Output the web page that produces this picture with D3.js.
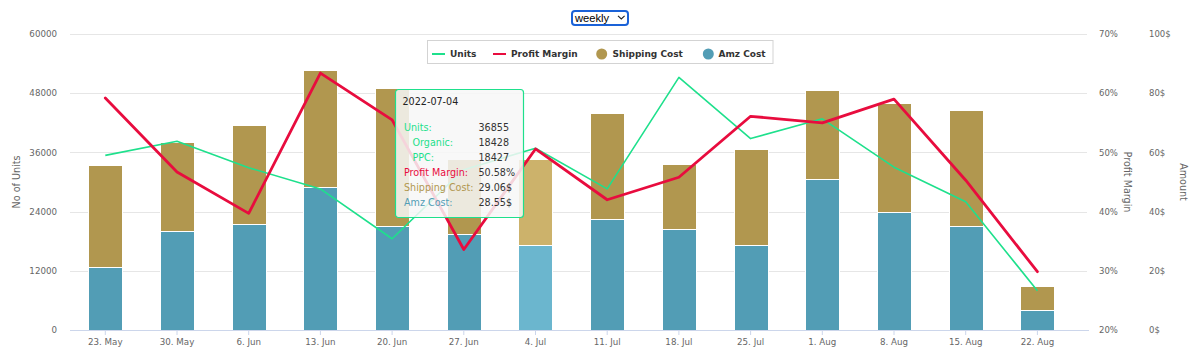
<!DOCTYPE html>
<html>
<head>
<meta charset="utf-8">
<script src="https://cdn.jsdelivr.net/npm/d3@7/dist/d3.min.js"></script>
<style>
  html, body { margin: 0; padding: 0; background: #fff; }
  svg { display: block; font-family: "DejaVu Sans", Verdana, sans-serif; }
</style>
</head>
<body>
<svg id="chart" width="1200" height="364"></svg>
<script>
// ---------------- data ----------------
const categories = ["23. May","30. May","6. Jun","13. Jun","20. Jun","27. Jun","4. Jul","11. Jul","18. Jul","25. Jul","1. Aug","8. Aug","15. Aug","22. Aug"];
const units        = [35400, 38250, 32900, 28600, 18500, 32500, 36855, 28600, 51200, 38800, 42800, 33000, 26000, 7970];
const profitMargin = [59.2, 46.7, 39.7, 63.4, 55.5, 33.6, 50.58, 42.0, 45.8, 56.1, 55.0, 59.0, 45.3, 29.85];
const shippingCost = [34.4, 30.2, 33.6, 39.3, 46.6, 25.3, 29.06, 36.0, 22.1, 32.4, 30.1, 36.7, 39.2, 8.0];
const amzCost      = [21.2, 33.3, 35.8, 48.4, 35.1, 32.4, 28.55, 37.4, 34.0, 28.6, 50.9, 40.0, 35.2, 6.8];
const unitTicks   = [0, 12000, 24000, 36000, 48000, 60000];
const marginTicks = [20, 30, 40, 50, 60, 70];
const amountTicks = [0, 20, 40, 60, 80, 100];
const tooltipDate = "2022-07-04";
const tooltipIndex = 6;
const organicUnits = 18428;
const ppcUnits = 18427;
const periodLabel = "weekly";

// ---------------- styles ----------------
const C = {
  units: "#1ee08c", margin: "#e80c3e", ship: "#b1974f", amz: "#529db5",
  shipHover: "#ccb26b", amzHover: "#6bb6ce",
  grid: "#e6e6e6", axis: "#ccd6eb", label: "#666666", text: "#333333"
};
const plot = { left: 70, right: 1087, top: 34, bottom: 330 };

const svg = d3.select("#chart");

// ---------------- scales ----------------
const x = d3.scaleBand().domain(categories).range([69.45, 1073.25])
  .paddingInner(0.525).paddingOuter(0.2625);
const yUnits = d3.scaleLinear().domain([0, 60000]).range([plot.bottom, plot.top]);
const yMargin = d3.scaleLinear().domain([20, 70]).range([plot.bottom, plot.top]);
const yAmount = d3.scaleLinear().domain([0, 100]).range([plot.bottom, plot.top]);
const cx = c => x(c) + x.bandwidth() / 2;

// ---------------- grid ----------------
svg.append("g").selectAll("line").data(unitTicks.filter(t => t > 0)).join("line")
  .attr("x1", plot.left).attr("x2", plot.right)
  .attr("y1", d => Math.round(yUnits(d)) + 0.5).attr("y2", d => Math.round(yUnits(d)) + 0.5)
  .attr("stroke", C.grid).attr("stroke-width", 1);

// ---------------- stacked bars ----------------
const rows = categories.map((c, i) => ({ cat: c, i, amz: amzCost[i], ship: shippingCost[i] }));
const stacked = d3.stack().keys(["amz", "ship"])(rows);
const barG = svg.append("g");
stacked.forEach(layer => {
  barG.append("g").selectAll("rect").data(layer).join("rect")
    .attr("x", d => Math.round(x(d.data.cat)) + 0.5)
    .attr("width", Math.round(x.bandwidth()))
    .attr("y", d => Math.round(yAmount(d[1])) + 0.5)
    .attr("height", d => Math.round(yAmount(d[0])) - Math.round(yAmount(d[1])))
    .attr("fill", d => {
      const hov = d.data.i === tooltipIndex;
      if (layer.key === "amz") return hov ? C.amzHover : C.amz;
      return hov ? C.shipHover : C.ship;
    })
    .attr("stroke", "#ffffff").attr("stroke-width", 1);
});

// ---------------- x axis ----------------
svg.append("line")
  .attr("x1", plot.left).attr("x2", plot.right + 2)
  .attr("y1", plot.bottom + 0.5).attr("y2", plot.bottom + 0.5)
  .attr("stroke", C.axis);
const xAxis = svg.append("g").attr("transform", `translate(0,${plot.bottom})`)
  .call(d3.axisBottom(x).tickSize(5).tickSizeOuter(0).tickPadding(4));
xAxis.select(".domain").remove();
xAxis.selectAll(".tick line").attr("stroke", C.axis);
xAxis.selectAll(".tick text").attr("fill", C.label)
  .style("font-family", "DejaVu Sans").style("font-size", "8.7px");

// ---------------- left axis ----------------
const yAxisL = svg.append("g").attr("transform", `translate(57,0)`)
  .call(d3.axisLeft(yUnits).tickValues(unitTicks).tickSize(0).tickPadding(0).tickFormat(d3.format("d")));
yAxisL.select(".domain").remove();
yAxisL.selectAll(".tick text").attr("fill", C.label)
  .style("font-family", "DejaVu Sans").style("font-size", "8.7px");

svg.append("text")
  .attr("transform", `translate(20,${(plot.top + plot.bottom) / 2}) rotate(-90)`)
  .attr("text-anchor", "middle").attr("fill", C.label)
  .style("font-size", "9.6px").text("No of Units");

// ---------------- right axes ----------------
const yAxisR1 = svg.append("g").attr("transform", `translate(1099,0)`)
  .call(d3.axisRight(yMargin).tickValues(marginTicks).tickSize(0).tickPadding(0).tickFormat(d => d + "%"));
yAxisR1.select(".domain").remove();
yAxisR1.selectAll(".tick text").attr("fill", C.label)
  .style("font-family", "DejaVu Sans").style("font-size", "8.5px");

const yAxisR2 = svg.append("g").attr("transform", `translate(1149,0)`)
  .call(d3.axisRight(yAmount).tickValues(amountTicks).tickSize(0).tickPadding(0).tickFormat(d => d + "$"));
yAxisR2.select(".domain").remove();
yAxisR2.selectAll(".tick text").attr("fill", C.label)
  .style("font-family", "DejaVu Sans").style("font-size", "8.5px");

svg.append("text")
  .attr("transform", `translate(1124,${(plot.top + plot.bottom) / 2}) rotate(90)`)
  .attr("text-anchor", "middle").attr("fill", C.label)
  .style("font-size", "9.6px").text("Profit Margin");
svg.append("text")
  .attr("transform", `translate(1180,${(plot.top + plot.bottom) / 2}) rotate(90)`)
  .attr("text-anchor", "middle").attr("fill", C.label)
  .style("font-size", "9.6px").text("Amount");

// ---------------- lines ----------------
const unitsLine = d3.line().x((d, i) => cx(categories[i])).y(d => yUnits(d));
svg.append("path").datum(units).attr("d", unitsLine)
  .attr("fill", "none").attr("stroke", C.units).attr("stroke-width", 1.6)
  .attr("stroke-linejoin", "round");

const marginLine = d3.line().x((d, i) => cx(categories[i])).y(d => yMargin(d));
svg.append("path").datum(profitMargin).attr("d", marginLine)
  .attr("fill", "none").attr("stroke", C.margin).attr("stroke-width", 2.8)
  .attr("stroke-linejoin", "round").attr("stroke-linecap", "round");

// ---------------- legend ----------------
const lg = svg.append("g");
lg.append("rect").attr("x", 427.5).attr("y", 40.5).attr("width", 345.5).attr("height", 23)
  .attr("fill", "#fff").attr("stroke", "#d3d3d3");
const legendItems = [
  { name: "Units", type: "line", color: C.units, sx: 432, tx: 450 },
  { name: "Profit Margin", type: "line", color: C.margin, sx: 493, tx: 511 },
  { name: "Shipping Cost", type: "dot", color: C.ship, sx: 601.7, tx: 612.5 },
  { name: "Amz Cost", type: "dot", color: C.amz, sx: 708.3, tx: 718.5 }
];
legendItems.forEach(it => {
  if (it.type === "line") {
    lg.append("line").attr("x1", it.sx).attr("x2", it.sx + 13).attr("y1", 54).attr("y2", 54)
      .attr("stroke", it.color).attr("stroke-width", 2);
  } else {
    lg.append("circle").attr("cx", it.sx).attr("cy", 54).attr("r", 5.5).attr("fill", it.color);
  }
  lg.append("text").attr("x", it.tx).attr("y", 57.3).attr("fill", C.text)
    .style("font-size", "9px").style("font-weight", "bold").text(it.name);
});

// ---------------- period selector ----------------
const sel = svg.append("g");
sel.append("rect").attr("x", 572).attr("y", 11).attr("width", 56).attr("height", 14).attr("rx", 3)
  .attr("fill", "#fff").attr("stroke", "#1a62d8").attr("stroke-width", 2);
sel.append("text").attr("x", 575).attr("y", 22).attr("fill", "#000")
  .style("font-family", "Liberation Sans, Arial, sans-serif").style("font-size", "11.2px").text(periodLabel);
sel.append("path").attr("d", "M618,15.8 L621.3,19 L624.6,15.8")
  .attr("fill", "none").attr("stroke", "#222").attr("stroke-width", 1.1);

// ---------------- tooltip ----------------
const tt = svg.append("g").attr("transform", "translate(395.5,89.5)");
tt.append("rect").attr("width", 128).attr("height", 128).attr("rx", 3)
  .attr("fill", "rgba(247,247,247,0.85)").attr("stroke", C.units).attr("stroke-width", 1.2);
const ttText = (xp, yp, s, color) => tt.append("text").attr("x", xp).attr("y", yp)
  .attr("fill", color).style("font-size", "9.6px").text(s);
ttText(7, 15.8, tooltipDate, "#222");
const ttRows = [
  ["Units:", String(units[tooltipIndex]), C.units, 8.5],
  ["Organic:", String(organicUnits), C.units, 17],
  ["PPC:", String(ppcUnits), C.units, 17],
  ["Profit Margin:", profitMargin[tooltipIndex].toFixed(2) + "%", C.margin, 8.5],
  ["Shipping Cost:", shippingCost[tooltipIndex].toFixed(2) + "$", C.ship, 8.5],
  ["Amz Cost:", amzCost[tooltipIndex].toFixed(2) + "$", C.amz, 8.5]
];
ttRows.forEach((r, k) => {
  const yp = 41 + k * 15.1;
  ttText(r[3], yp, r[0], r[2]);
  ttText(83, yp, r[1], C.text);
});
</script>
</body>
</html>
